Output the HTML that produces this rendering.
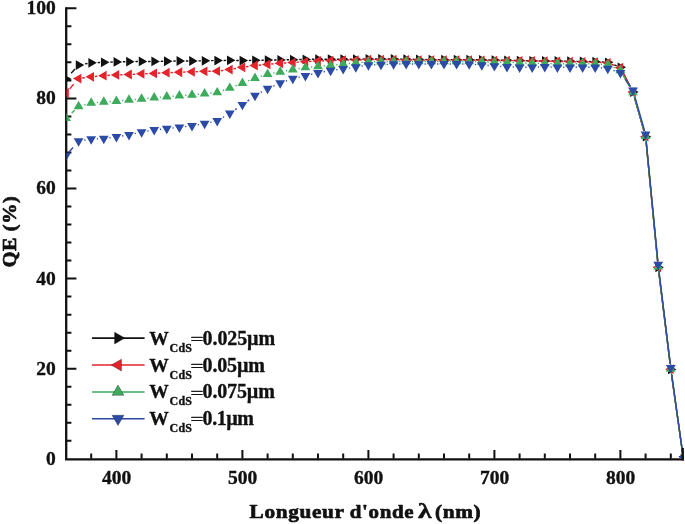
<!DOCTYPE html>
<html lang="fr"><head><meta charset="utf-8"><title>QE (%) vs Longueur d'onde</title>
<style>html,body{margin:0;padding:0;background:#fff}svg{display:block;filter:blur(0.45px)}</style></head>
<body>
<svg width="685" height="524" viewBox="0 0 685 524">
<rect width="685" height="524" fill="#fff"/>
<defs><clipPath id="pc"><rect x="66.50" y="0" width="617.10" height="458.50"/></clipPath></defs>
<path d="M66.20 7.30V459.35H683.90" fill="none" stroke="#111" stroke-width="2.30"/>
<path d="M66.20 440.78h5.20M66.20 422.76h5.20M66.20 404.74h5.20M66.20 386.72h5.20M66.20 368.70h10.20M66.20 350.68h5.20M66.20 332.66h5.20M66.20 314.64h5.20M66.20 296.62h5.20M66.20 278.60h10.20M66.20 260.58h5.20M66.20 242.56h5.20M66.20 224.54h5.20M66.20 206.52h5.20M66.20 188.50h10.20M66.20 170.48h5.20M66.20 152.46h5.20M66.20 134.44h5.20M66.20 116.42h5.20M66.20 98.40h10.20M66.20 80.38h5.20M66.20 62.36h5.20M66.20 44.34h5.20M66.20 26.32h5.20M66.20 8.30h10.20M91.20 458.80v-5.20M116.40 458.80v-8.80M141.60 458.80v-5.20M166.80 458.80v-5.20M192.00 458.80v-5.20M217.20 458.80v-5.20M242.40 458.80v-8.80M267.60 458.80v-5.20M292.80 458.80v-5.20M318.00 458.80v-5.20M343.20 458.80v-5.20M368.40 458.80v-8.80M393.60 458.80v-5.20M418.80 458.80v-5.20M444.00 458.80v-5.20M469.20 458.80v-5.20M494.40 458.80v-8.80M519.60 458.80v-5.20M544.80 458.80v-5.20M570.00 458.80v-5.20M595.20 458.80v-5.20M620.40 458.80v-8.80M645.60 458.80v-5.20M670.80 458.80v-5.20" fill="none" stroke="#111" stroke-width="2"/>
<g clip-path="url(#pc)">
<path d="M71.14 73.33L74.97 69.09M85.06 63.91L87.57 63.46M97.66 62.58L100.17 62.49M110.26 62.13L112.77 62.04M122.86 61.79L125.37 61.75M135.46 61.57L137.97 61.52M148.06 61.46L150.57 61.46M160.66 61.34L163.17 61.30M173.26 61.12L175.77 61.07M185.86 61.01L188.37 61.01M198.46 60.89L200.97 60.85M211.06 60.67L213.57 60.62M223.66 60.44L226.17 60.40M236.26 60.45L238.77 60.49M248.86 60.44L251.37 60.40M261.46 60.22L263.97 60.17M274.06 59.99L276.57 59.95M286.66 59.77L289.17 59.72M299.26 59.54L301.77 59.50M311.86 59.32L314.37 59.27M324.46 59.21L326.97 59.21M337.06 59.21L339.57 59.21M349.66 59.21L352.17 59.21M362.26 59.09L364.77 59.05M374.86 58.98L377.37 58.98M387.46 58.98L389.97 58.98M400.06 59.10L402.57 59.14M412.66 59.32L415.17 59.37M425.26 59.55L427.77 59.59M437.86 59.66L440.37 59.66M450.46 59.66L452.97 59.66M463.06 59.66L465.57 59.66M475.66 59.77L478.17 59.82M488.26 60.00L490.77 60.04M500.86 60.22L503.37 60.27M513.46 60.45L515.97 60.49M526.06 60.67L528.57 60.72M538.66 60.90L541.17 60.94M551.26 61.01L553.77 61.01M563.86 61.12L566.37 61.17M576.46 61.35L578.97 61.39M589.06 61.57L591.57 61.62M601.66 62.03L604.17 62.17M614.26 64.90L616.77 65.89M623.30 73.02L630.10 86.39M634.61 97.79L643.99 130.99M646.15 142.39L657.65 261.64M658.90 273.04L670.10 363.68M671.60 375.08L682.60 453.10" fill="none" stroke="#111" stroke-width="1.40"/>
<path d="M63.17 74.13 L71.66 79.03 L63.17 83.93ZM75.77 60.16 L84.26 65.06 L75.77 69.96ZM88.37 57.91 L96.86 62.81 L88.37 67.71ZM100.97 57.46 L109.46 62.36 L100.97 67.26ZM113.57 57.01 L122.06 61.91 L113.57 66.81ZM126.17 56.78 L134.66 61.68 L126.17 66.58ZM138.77 56.56 L147.26 61.46 L138.77 66.36ZM151.37 56.56 L159.86 61.46 L151.37 66.36ZM163.97 56.33 L172.46 61.23 L163.97 66.13ZM176.57 56.11 L185.06 61.01 L176.57 65.91ZM189.17 56.11 L197.66 61.01 L189.17 65.91ZM201.77 55.88 L210.26 60.78 L201.77 65.68ZM214.37 55.66 L222.86 60.56 L214.37 65.46ZM226.97 55.43 L235.46 60.33 L226.97 65.23ZM239.57 55.66 L248.06 60.56 L239.57 65.46ZM252.17 55.43 L260.66 60.33 L252.17 65.23ZM264.77 55.21 L273.26 60.11 L264.77 65.01ZM277.37 54.98 L285.86 59.88 L277.37 64.78ZM289.97 54.76 L298.46 59.66 L289.97 64.56ZM302.57 54.53 L311.06 59.43 L302.57 64.33ZM315.17 54.31 L323.66 59.21 L315.17 64.11ZM327.77 54.31 L336.26 59.21 L327.77 64.11ZM340.37 54.31 L348.86 59.21 L340.37 64.11ZM352.97 54.31 L361.46 59.21 L352.97 64.11ZM365.57 54.08 L374.06 58.98 L365.57 63.88ZM378.17 54.08 L386.66 58.98 L378.17 63.88ZM390.77 54.08 L399.26 58.98 L390.77 63.88ZM403.37 54.31 L411.86 59.21 L403.37 64.11ZM415.97 54.53 L424.46 59.43 L415.97 64.33ZM428.57 54.76 L437.06 59.66 L428.57 64.56ZM441.17 54.76 L449.66 59.66 L441.17 64.56ZM453.77 54.76 L462.26 59.66 L453.77 64.56ZM466.37 54.76 L474.86 59.66 L466.37 64.56ZM478.97 54.98 L487.46 59.88 L478.97 64.78ZM491.57 55.21 L500.06 60.11 L491.57 65.01ZM504.17 55.43 L512.66 60.33 L504.17 65.23ZM516.77 55.66 L525.26 60.56 L516.77 65.46ZM529.37 55.88 L537.86 60.78 L529.37 65.68ZM541.97 56.11 L550.46 61.01 L541.97 65.91ZM554.57 56.11 L563.06 61.01 L554.57 65.91ZM567.17 56.33 L575.66 61.23 L567.17 66.13ZM579.77 56.56 L588.26 61.46 L579.77 66.36ZM592.37 56.78 L600.86 61.68 L592.37 66.58ZM604.97 57.46 L613.46 62.36 L604.97 67.26ZM617.57 62.42 L626.06 67.32 L617.57 72.22ZM630.17 87.19 L638.66 92.09 L630.17 96.99ZM642.77 131.79 L651.26 136.69 L642.77 141.59ZM655.37 262.44 L663.86 267.34 L655.37 272.24ZM667.97 364.48 L676.46 369.38 L667.97 374.28ZM680.57 453.90 L689.06 458.80 L680.57 463.70Z" fill="#111"/>

<path d="M69.63 88.84L73.62 84.28M82.23 78.06L84.74 77.70M94.83 76.45L97.34 76.23M107.43 75.46L109.94 75.32M120.03 74.84L122.54 74.75M132.63 74.33L135.14 74.19M145.23 73.72L147.74 73.63M157.83 73.20L160.34 73.07M170.43 72.59L172.94 72.50M183.03 72.14L185.54 72.05M195.63 71.69L198.14 71.60M208.23 71.31L210.74 71.26M220.83 70.69L223.34 70.38M233.43 68.92L235.94 68.47M246.03 66.80L248.54 66.44M258.63 65.19L261.14 64.96M271.23 64.06L273.74 63.84M283.83 63.07L286.34 62.93M296.43 62.33L298.94 62.15M309.03 61.49L311.54 61.35M321.63 60.88L324.14 60.79M334.23 60.43L336.74 60.34M346.83 60.11L349.34 60.11M359.43 59.98L361.94 59.89M372.03 59.66L374.54 59.66M384.63 59.66L387.14 59.66M397.23 59.72L399.74 59.77M409.83 59.95L412.34 59.99M422.43 60.11L424.94 60.11M435.03 60.11L437.54 60.11M447.63 60.11L450.14 60.11M460.23 60.11L462.74 60.11M472.83 60.17L475.34 60.22M485.43 60.40L487.94 60.44M498.03 60.56L500.54 60.56M510.63 60.62L513.14 60.67M523.23 60.85L525.74 60.89M535.83 61.07L538.34 61.12M548.43 61.30L550.94 61.34M561.03 61.52L563.54 61.57M573.63 61.75L576.14 61.79M586.23 61.97L588.74 62.02M598.83 62.33L601.34 62.46M611.43 64.24L613.94 65.23M623.35 73.47L630.05 86.39M634.61 97.79L643.99 130.99M646.15 142.39L657.65 261.64M658.91 273.04L670.09 363.45M671.60 374.85L682.60 453.10" fill="none" stroke="#e5232b" stroke-width="1.40"/>
<path d="M68.83 88.09 L60.34 92.99 L68.83 97.89ZM81.43 73.68 L72.94 78.58 L81.43 83.48ZM94.03 71.88 L85.54 76.78 L94.03 81.68ZM106.63 70.75 L98.14 75.65 L106.63 80.55ZM119.23 70.07 L110.74 74.97 L119.23 79.87ZM131.83 69.62 L123.34 74.52 L131.83 79.42ZM144.43 68.95 L135.94 73.85 L144.43 78.75ZM157.03 68.50 L148.54 73.40 L157.03 78.30ZM169.63 67.82 L161.14 72.72 L169.63 77.62ZM182.23 67.37 L173.74 72.27 L182.23 77.17ZM194.83 66.92 L186.34 71.82 L194.83 76.72ZM207.43 66.47 L198.94 71.37 L207.43 76.27ZM220.03 66.24 L211.54 71.14 L220.03 76.04ZM232.63 64.67 L224.14 69.57 L232.63 74.47ZM245.23 62.42 L236.74 67.32 L245.23 72.22ZM257.83 60.61 L249.34 65.51 L257.83 70.41ZM270.43 59.49 L261.94 64.39 L270.43 69.29ZM283.03 58.36 L274.54 63.26 L283.03 68.16ZM295.63 57.69 L287.14 62.59 L295.63 67.49ZM308.23 56.78 L299.74 61.68 L308.23 66.58ZM320.83 56.11 L312.34 61.01 L320.83 65.91ZM333.43 55.66 L324.94 60.56 L333.43 65.46ZM346.03 55.21 L337.54 60.11 L346.03 65.01ZM358.63 55.21 L350.14 60.11 L358.63 65.01ZM371.23 54.76 L362.74 59.66 L371.23 64.56ZM383.83 54.76 L375.34 59.66 L383.83 64.56ZM396.43 54.76 L387.94 59.66 L396.43 64.56ZM409.03 54.98 L400.54 59.88 L409.03 64.78ZM421.63 55.21 L413.14 60.11 L421.63 65.01ZM434.23 55.21 L425.74 60.11 L434.23 65.01ZM446.83 55.21 L438.34 60.11 L446.83 65.01ZM459.43 55.21 L450.94 60.11 L459.43 65.01ZM472.03 55.21 L463.54 60.11 L472.03 65.01ZM484.63 55.43 L476.14 60.33 L484.63 65.23ZM497.23 55.66 L488.74 60.56 L497.23 65.46ZM509.83 55.66 L501.34 60.56 L509.83 65.46ZM522.43 55.88 L513.94 60.78 L522.43 65.68ZM535.03 56.11 L526.54 61.01 L535.03 65.91ZM547.63 56.33 L539.14 61.23 L547.63 66.13ZM560.23 56.56 L551.74 61.46 L560.23 66.36ZM572.83 56.78 L564.34 61.68 L572.83 66.58ZM585.43 57.01 L576.94 61.91 L585.43 66.81ZM598.03 57.23 L589.54 62.13 L598.03 67.03ZM610.63 57.91 L602.14 62.81 L610.63 67.71ZM623.23 62.87 L614.74 67.77 L623.23 72.67ZM635.83 87.19 L627.34 92.09 L635.83 96.99ZM648.43 131.79 L639.94 136.69 L648.43 141.59ZM661.03 262.44 L652.54 267.34 L661.03 272.24ZM673.63 364.25 L665.14 369.15 L673.63 374.05ZM686.23 453.90 L677.74 458.80 L686.23 463.70Z" fill="#e5232b"/>

<path d="M71.70 112.92L74.70 110.14M84.30 104.88L85.50 104.54M96.90 102.50L98.10 102.41M109.50 101.60L110.70 101.51M122.10 100.59L123.30 100.49M134.70 99.47L135.90 99.36M147.30 98.34L148.50 98.23M159.90 97.21L161.10 97.11M172.50 96.19L173.70 96.10M185.10 95.29L186.30 95.20M197.70 94.29L198.90 94.18M210.30 93.16L211.50 93.05M222.90 90.51L224.10 90.08M235.50 85.80L236.70 85.32M248.10 80.84L249.30 80.37M260.70 76.29L261.90 75.91M273.30 73.05L274.50 72.84M285.90 70.80L287.10 70.59M298.50 68.65L299.70 68.46M311.10 67.03L312.30 66.92M323.70 65.91L324.90 65.80M336.30 64.78L337.50 64.67M348.90 63.55L350.10 63.42M361.50 62.40L362.70 62.32M374.10 61.81L375.30 61.79M386.70 61.58L387.90 61.56M399.30 61.46L400.50 61.46M411.90 61.46L413.10 61.46M424.50 61.46L425.70 61.46M437.10 61.46L438.30 61.46M449.70 61.46L450.90 61.46M462.30 61.46L463.50 61.46M474.90 61.66L476.10 61.71M487.50 62.01L488.70 62.03M500.10 62.24L501.30 62.26M512.70 62.56L513.90 62.61M525.30 63.01L526.50 63.06M537.90 63.36L539.10 63.38M550.50 63.59L551.70 63.61M563.10 63.71L564.30 63.71M575.70 63.71L576.90 63.71M588.30 63.81L589.50 63.83M600.90 64.24L602.10 64.31M613.50 67.26L614.70 67.82M622.47 74.10L629.31 86.09M634.05 96.17L643.74 129.78M645.95 139.87L657.58 260.20M658.65 270.29L670.00 362.47M671.31 372.55L682.49 452.34" fill="none" stroke="#3dab5b" stroke-width="1.40"/>
<path d="M61.10 121.05 L66.00 112.56 L70.90 121.05ZM73.70 109.34 L78.60 100.85 L83.50 109.34ZM86.30 105.73 L91.20 97.25 L96.10 105.73ZM98.90 104.83 L103.80 96.35 L108.70 104.83ZM111.50 103.93 L116.40 95.44 L121.30 103.93ZM124.10 102.81 L129.00 94.32 L133.90 102.81ZM136.70 101.68 L141.60 93.19 L146.50 101.68ZM149.30 100.55 L154.20 92.07 L159.10 100.55ZM161.90 99.43 L166.80 90.94 L171.70 99.43ZM174.50 98.53 L179.40 90.04 L184.30 98.53ZM187.10 97.63 L192.00 89.14 L196.90 97.63ZM199.70 96.50 L204.60 88.01 L209.50 96.50ZM212.30 95.37 L217.20 86.89 L222.10 95.37ZM224.90 90.87 L229.80 82.38 L234.70 90.87ZM237.50 85.91 L242.40 77.42 L247.30 85.91ZM250.10 80.96 L255.00 72.47 L259.90 80.96ZM262.70 76.90 L267.60 68.41 L272.50 76.90ZM275.30 74.65 L280.20 66.16 L285.10 74.65ZM287.90 72.40 L292.80 63.91 L297.70 72.40ZM300.50 70.37 L305.40 61.88 L310.30 70.37ZM313.10 69.24 L318.00 60.76 L322.90 69.24ZM325.70 68.12 L330.60 59.63 L335.50 68.12ZM338.30 66.99 L343.20 58.50 L348.10 66.99ZM350.90 65.64 L355.80 57.15 L360.70 65.64ZM363.50 64.74 L368.40 56.25 L373.30 64.74ZM376.10 64.51 L381.00 56.03 L385.90 64.51ZM388.70 64.29 L393.60 55.80 L398.50 64.29ZM401.30 64.29 L406.20 55.80 L411.10 64.29ZM413.90 64.29 L418.80 55.80 L423.70 64.29ZM426.50 64.29 L431.40 55.80 L436.30 64.29ZM439.10 64.29 L444.00 55.80 L448.90 64.29ZM451.70 64.29 L456.60 55.80 L461.50 64.29ZM464.30 64.29 L469.20 55.80 L474.10 64.29ZM476.90 64.74 L481.80 56.25 L486.70 64.74ZM489.50 64.96 L494.40 56.48 L499.30 64.96ZM502.10 65.19 L507.00 56.70 L511.90 65.19ZM514.70 65.64 L519.60 57.15 L524.50 65.64ZM527.30 66.09 L532.20 57.60 L537.10 66.09ZM539.90 66.32 L544.80 57.83 L549.70 66.32ZM552.50 66.54 L557.40 58.05 L562.30 66.54ZM565.10 66.54 L570.00 58.05 L574.90 66.54ZM577.70 66.54 L582.60 58.05 L587.50 66.54ZM590.30 66.77 L595.20 58.28 L600.10 66.77ZM602.90 67.44 L607.80 58.95 L612.70 67.44ZM615.50 73.30 L620.40 64.81 L625.30 73.30ZM628.10 95.37 L633.00 86.89 L637.90 95.37ZM640.70 139.07 L645.60 130.58 L650.50 139.07ZM653.30 269.49 L658.20 261.00 L663.10 269.49ZM665.90 371.75 L670.80 363.27 L675.70 371.75ZM678.50 461.63 L683.40 453.14 L688.30 461.63Z" fill="#3dab5b"/>

<path d="M69.12 151.98L73.04 147.43M84.30 140.16L85.50 139.99M96.90 138.86L98.10 138.80M109.50 137.78L110.70 137.63M122.10 136.00L123.30 135.81M134.70 133.67L135.90 133.41M147.30 131.17L148.50 130.95M159.90 129.32L161.10 129.19M172.50 127.97L173.70 127.84M185.10 126.62L186.30 126.49M197.70 124.86L198.90 124.65M210.30 122.41L211.50 122.15M222.90 117.46L224.10 116.73M235.14 109.64L236.70 108.58M247.47 101.08L249.30 99.77M260.70 92.44L261.90 91.75M273.30 86.04L274.50 85.53M285.90 81.05L287.10 80.62M298.50 77.36L299.70 77.10M311.10 74.45L312.30 74.15M323.70 71.70L324.90 71.49M336.30 69.76L337.50 69.61M348.90 68.08L350.10 67.91M361.50 66.17L362.70 65.98M374.10 64.86L375.30 64.82M386.70 64.41L387.90 64.37M399.30 64.06L400.50 64.04M411.90 63.94L413.10 63.94M424.50 63.94L425.70 63.94M437.10 63.94L438.30 63.94M449.70 63.94L450.90 63.94M462.30 64.04L463.50 64.06M474.90 64.57L476.10 64.66M487.50 65.47L488.70 65.56M500.10 66.37L501.30 66.46M512.70 67.07L513.90 67.11M525.30 67.32L526.50 67.32M537.90 67.11L539.10 67.07M550.50 67.07L551.70 67.11M563.10 67.32L564.30 67.32M575.70 67.32L576.90 67.32M588.30 67.32L589.50 67.32M600.90 67.93L602.10 68.06M613.50 70.50L614.70 70.89M625.03 79.18L630.40 86.66M634.84 96.75L644.56 130.81M646.22 140.90L657.85 261.01M658.99 271.09L670.36 364.17M671.69 374.26L682.90 455.17" fill="none" stroke="#2b4ba6" stroke-width="1.40"/>
<path d="M61.10 152.78 L66.00 161.27 L70.90 152.78ZM73.70 138.14 L78.60 146.63 L83.50 138.14ZM86.30 136.34 L91.20 144.83 L96.10 136.34ZM98.90 135.67 L103.80 144.15 L108.70 135.67ZM111.50 134.09 L116.40 142.58 L121.30 134.09ZM124.10 132.06 L129.00 140.55 L133.90 132.06ZM136.70 129.36 L141.60 137.85 L146.50 129.36ZM149.30 127.11 L154.20 135.59 L159.10 127.11ZM161.90 125.75 L166.80 134.24 L171.70 125.75ZM174.50 124.40 L179.40 132.89 L184.30 124.40ZM187.10 123.05 L192.00 131.54 L196.90 123.05ZM199.70 120.80 L204.60 129.29 L209.50 120.80ZM212.30 118.10 L217.20 126.58 L222.10 118.10ZM224.90 110.44 L229.80 118.92 L234.70 110.44ZM237.50 101.88 L242.40 110.37 L247.30 101.88ZM250.10 92.87 L255.00 101.36 L259.90 92.87ZM262.70 85.66 L267.60 94.15 L272.50 85.66ZM275.30 80.25 L280.20 88.74 L285.10 80.25ZM287.90 75.75 L292.80 84.24 L297.70 75.75ZM300.50 73.05 L305.40 81.53 L310.30 73.05ZM313.10 69.89 L318.00 78.38 L322.90 69.89ZM325.70 67.64 L330.60 76.13 L335.50 67.64ZM338.30 66.06 L343.20 74.55 L348.10 66.06ZM350.90 64.26 L355.80 72.75 L360.70 64.26ZM363.50 62.23 L368.40 70.72 L373.30 62.23ZM376.10 61.78 L381.00 70.27 L385.90 61.78ZM388.70 61.33 L393.60 69.82 L398.50 61.33ZM401.30 61.11 L406.20 69.59 L411.10 61.11ZM413.90 61.11 L418.80 69.59 L423.70 61.11ZM426.50 61.11 L431.40 69.59 L436.30 61.11ZM439.10 61.11 L444.00 69.59 L448.90 61.11ZM451.70 61.11 L456.60 69.59 L461.50 61.11ZM464.30 61.33 L469.20 69.82 L474.10 61.33ZM476.90 62.23 L481.80 70.72 L486.70 62.23ZM489.50 63.13 L494.40 71.62 L499.30 63.13ZM502.10 64.04 L507.00 72.52 L511.90 64.04ZM514.70 64.49 L519.60 72.97 L524.50 64.49ZM527.30 64.49 L532.20 72.97 L537.10 64.49ZM539.90 64.04 L544.80 72.52 L549.70 64.04ZM552.50 64.49 L557.40 72.97 L562.30 64.49ZM565.10 64.49 L570.00 72.97 L574.90 64.49ZM577.70 64.49 L582.60 72.97 L587.50 64.49ZM590.30 64.49 L595.20 72.97 L600.10 64.49ZM602.90 65.84 L607.80 74.33 L612.70 65.84ZM615.50 69.89 L620.40 78.38 L625.30 69.89ZM628.10 87.46 L633.00 95.95 L637.90 87.46ZM640.70 131.61 L645.60 140.10 L650.50 131.61ZM653.30 261.81 L658.20 270.29 L663.10 261.81ZM665.90 364.97 L670.80 373.46 L675.70 364.97ZM678.50 455.97 L683.40 464.46 L688.30 455.97Z" fill="#2b4ba6"/>

</g>
<path d="M682.75 460.50V448" fill="none" stroke="#111" stroke-width="2.3"/>
<g font-family="'Liberation Serif', 'DejaVu Serif', serif" font-weight="bold" font-size="19.5" fill="#111" stroke="#111" stroke-width="0.35" stroke-linejoin="round">
<text x="55.7" y="464.70" text-anchor="end">0</text>
<text x="55.7" y="374.60" text-anchor="end">20</text>
<text x="55.7" y="284.50" text-anchor="end">40</text>
<text x="55.7" y="194.40" text-anchor="end">60</text>
<text x="55.7" y="104.30" text-anchor="end">80</text>
<text x="55.7" y="14.20" text-anchor="end">100</text>
<text x="116.50" y="484.4" text-anchor="middle">400</text>
<text x="242.50" y="484.4" text-anchor="middle">500</text>
<text x="368.50" y="484.4" text-anchor="middle">600</text>
<text x="494.50" y="484.4" text-anchor="middle">700</text>
<text x="620.50" y="484.4" text-anchor="middle">800</text>
<g font-size="19.6" letter-spacing="0.6" stroke="#111" stroke-width="0.7" stroke-linejoin="round">
<text y="518.0"><tspan x="249.6" textLength="94.6" lengthAdjust="spacingAndGlyphs">Longueur</tspan> <tspan x="349.8" textLength="64.4" lengthAdjust="spacingAndGlyphs">d'onde</tspan> <tspan x="417.9" font-size="20.5" letter-spacing="0" stroke-width="0.5" textLength="13.6" lengthAdjust="spacingAndGlyphs">λ</tspan> <tspan x="434.9" textLength="46.4" lengthAdjust="spacingAndGlyphs">(nm)</tspan></text>
<text transform="translate(15.7 267.2) rotate(-90)" textLength="71.5" lengthAdjust="spacingAndGlyphs">QE (%)</text>
</g>
<path d="M92 338.10H144.6" stroke="#111" stroke-width="1.9"/>
<path d="M114.59 332.20 L124.81 338.10 L114.59 344.00Z" fill="#111"/>
<text x="149.3" y="344.50">W<tspan x="169.6" y="351.50" font-size="12" letter-spacing="0.15">CdS</tspan><tspan x="190.4" y="343.70" font-size="14" font-weight="normal" stroke-width="0.5" textLength="12.9" lengthAdjust="spacingAndGlyphs">=</tspan><tspan x="202.6" y="344.50" font-size="20" textLength="72.6" lengthAdjust="spacing">0.025µm</tspan></text>
<path d="M92 365.10H144.6" stroke="#e5232b" stroke-width="1.5"/>
<path d="M121.41 359.20 L111.19 365.10 L121.41 371.00Z" fill="#e5232b"/>
<text x="149.3" y="371.50">W<tspan x="169.6" y="378.50" font-size="12" letter-spacing="0.15">CdS</tspan><tspan x="190.4" y="370.70" font-size="14" font-weight="normal" stroke-width="0.5" textLength="12.9" lengthAdjust="spacingAndGlyphs">=</tspan><tspan x="202.6" y="371.50" font-size="20" textLength="62.4" lengthAdjust="spacing">0.05µm</tspan></text>
<path d="M92 391.90H144.6" stroke="#3dab5b" stroke-width="1.5"/>
<path d="M112.10 395.31 L118.00 385.09 L123.90 395.31Z" fill="#3dab5b"/>
<text x="149.3" y="398.30">W<tspan x="169.6" y="405.30" font-size="12" letter-spacing="0.15">CdS</tspan><tspan x="190.4" y="397.50" font-size="14" font-weight="normal" stroke-width="0.5" textLength="12.9" lengthAdjust="spacingAndGlyphs">=</tspan><tspan x="202.6" y="398.30" font-size="20" textLength="72.2" lengthAdjust="spacing">0.075µm</tspan></text>
<path d="M92 418.70H144.6" stroke="#2b4ba6" stroke-width="1.5"/>
<path d="M112.10 415.29 L118.00 425.51 L123.90 415.29Z" fill="#2b4ba6"/>
<text x="149.3" y="425.10">W<tspan x="169.6" y="432.10" font-size="12" letter-spacing="0.15">CdS</tspan><tspan x="190.4" y="424.30" font-size="14" font-weight="normal" stroke-width="0.5" textLength="12.9" lengthAdjust="spacingAndGlyphs">=</tspan><tspan x="202.6" y="425.10" font-size="20" textLength="51.4" lengthAdjust="spacing">0.1µm</tspan></text>
</g>
</svg>
</body></html>
